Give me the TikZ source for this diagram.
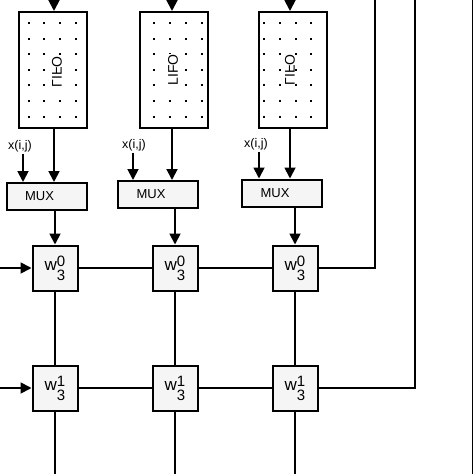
\documentclass[tikz,border=0pt]{standalone}
\usepackage{fontspec}
\setmainfont{Liberation Sans}
\usetikzlibrary{arrows.meta}
\newcommand\wlab[1]{\fontsize{17}{17}\selectfont w\makebox[0pt][l]{\raisebox{4pt}{\fontsize{15}{15}\selectfont #1}}\raisebox{-10pt}{\fontsize{15}{15}\selectfont 3}}
\newcommand\mirlifo{\scalebox{1}[-1]{LIFO}}
\begin{document}
\begin{tikzpicture}[x=1pt,y=-1pt,
  line width=1.8pt,
  arr/.style={-{Triangle[length=11pt,width=11pt]}},
  lifo/.style={draw, line width=2pt, fill=white, minimum width=68pt, minimum height=116pt, inner sep=0pt},
  mux/.style={draw, line width=2pt, fill=gray!8, minimum width=80pt, minimum height=27pt, inner sep=0pt},
  wbox/.style={draw, line width=2pt, fill=gray!8, minimum width=45pt, minimum height=45pt, inner sep=0pt},
  lifolbl/.style={font=\fontsize{14}{14}\selectfont, fill=white, inner sep=0.5pt, rotate=90},
  muxlbl/.style={font=\fontsize{13}{13}\selectfont, inner sep=0pt},
  xlbl/.style={font=\fontsize{12.5}{12.5}\selectfont, inner sep=1pt}
]
\useasboundingbox (0,0) rectangle (474,474);

% column coordinates
\coordinate (c1) at (54,0);
\coordinate (c2) at (172,0);
\coordinate (c3) at (290,0);
\coordinate (a1) at (23,0);
\coordinate (a2) at (133,0);
\coordinate (a3) at (259,0);
\coordinate (bot) at (0,474);

% LIFO boxes
\node[lifo] (L1) at (53,70) {};
\node[lifo] (L2) at (174,70) {};
\node[lifo] (L3) at (293,70) {};

% dots
\foreach \x in {29,44,60,76}{
  \foreach \y in {23,39,54,70,85,101,117}{
    \fill (\x-1.25,\y-1.25) rectangle (\x+1.25,\y+1.25);}}
\foreach \x in {154,170,186,202}{
  \foreach \y in {23,39,54,70,85,101,117}{
    \fill (\x-1.25,\y-1.25) rectangle (\x+1.25,\y+1.25);}}
\foreach \x in {264,280,296,311}{
  \foreach \y in {23,39,54,70,85,101,117}{
    \fill (\x-1.25,\y-1.25) rectangle (\x+1.25,\y+1.25);}}

\node[lifolbl] (T1) at (57,72) {\mirlifo};
\node[lifolbl] (T2) at (173,70) {LIFO};
\node[lifolbl] (T3) at (290,70) {\mirlifo};

% MUX boxes
\node[mux] (M1) at (46.5,196.5) {};
\node[mux] (M2) at (158,194.5) {};
\node[mux] (M3) at (282,193) {};
\node[muxlbl, xshift=-7pt] (MT1) at (M1) {MUX};
\node[muxlbl, xshift=-7pt] (MT2) at (M2) {MUX};
\node[muxlbl, xshift=-7pt] (MT3) at (M3) {MUX};

% x(i,j) labels
\node[xlbl] (X1) at (20,146) {x(i,j)};
\node[xlbl] (X2) at (134,145) {x(i,j)};
\node[xlbl] (X3) at (256,144) {x(i,j)};

% W boxes
\node[wbox] (W01) at (55,268) {\wlab{0}};
\node[wbox] (W02) at (175,268) {\wlab{0}};
\node[wbox] (W03) at (295,268) {\wlab{0}};
\node[wbox] (W11) at (55,388) {\wlab{1}};
\node[wbox] (W12) at (175,388) {\wlab{1}};
\node[wbox] (W13) at (295,388) {\wlab{1}};

% top arrows into LIFOs
\draw[arr] (c1) -- (L1.north -| c1);
\draw[arr] (c2) -- (L2.north -| c2);
\draw[arr] (c3) -- (L3.north -| c3);

% LIFO -> MUX
\draw[arr] (L1.south -| c1) -- (M1.north -| c1);
\draw[arr] (L2.south -| c2) -- (M2.north -| c2);
\draw[arr] (L3.south -| c3) -- (M3.north -| c3);

% x(i,j) -> MUX
\draw[arr] (X1.south -| a1) -- (M1.north -| a1);
\draw[arr] (X2.south -| a2) -- (M2.north -| a2);
\draw[arr] (X3.south -| a3) -- (M3.north -| a3);

% MUX -> W
\draw[arr] (M1.south -| W01) -- (W01.north);
\draw[arr] (M2.south -| W02) -- (W02.north);
\draw[arr] (M3.south -| W03) -- (W03.north);

% row 0
\coordinate (in0) at (0,268);
\coordinate (r0) at (375,0);
\draw[arr] (in0) -- (W01.west);
\draw (W01.east) -- (W02.west);
\draw (W02.east) -- (W03.west);
\draw (W03.east) -| (r0);

% row 1
\coordinate (in1) at (0,388);
\coordinate (r1) at (415,0);
\draw[arr] (in1) -- (W11.west);
\draw (W11.east) -- (W12.west);
\draw (W12.east) -- (W13.west);
\draw (W13.east) -| (r1);

% far right line
\coordinate (rt) at (472.5,0);
\coordinate (rb) at (472.5,474);
\draw (rt) -- (rb);

% verticals
\draw (W01.south) -- (W11.north);
\draw (W02.south) -- (W12.north);
\draw (W03.south) -- (W13.north);
\draw (W11.south) -- (W11.south |- bot);
\draw (W12.south) -- (W12.south |- bot);
\draw (W13.south) -- (W13.south |- bot);
\end{tikzpicture}
\end{document}
